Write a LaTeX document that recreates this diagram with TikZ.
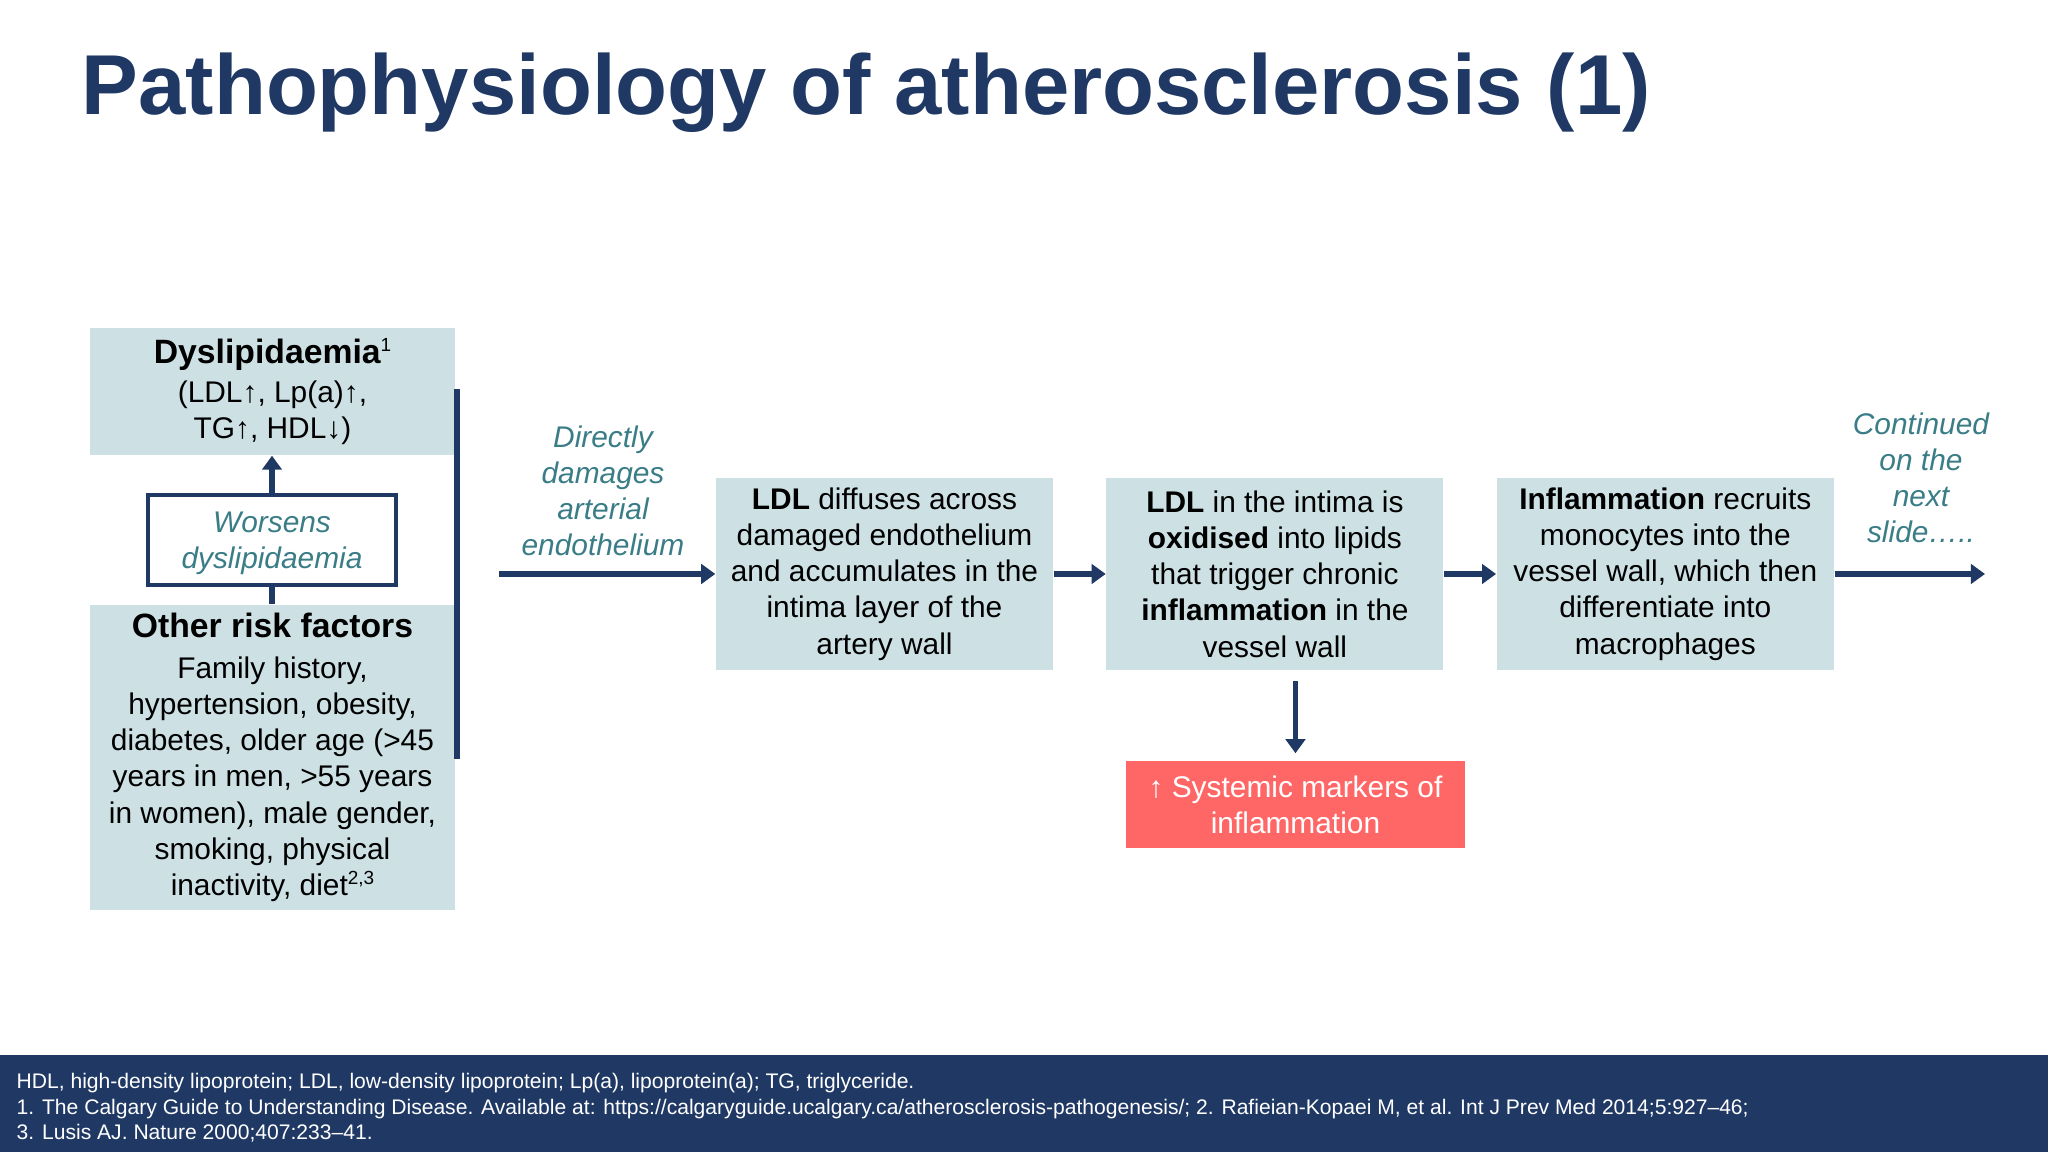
\documentclass[tikz,border=0pt]{standalone}
\usepackage{fontspec}
\setmainfont{Liberation Sans}
\definecolor{slnavy}{RGB}{31,56,100}
\definecolor{slbox}{RGB}{205,225,229}
\definecolor{slteal}{RGB}{58,125,135}
\definecolor{slred}{RGB}{255,102,102}
\usetikzlibrary{arrows.meta,positioning}
\newcommand{\refmark}[1]{\raisebox{0.7ex}{\fontsize{5.4}{6}\selectfont\mdseries #1}}

\begin{document}
\begin{tikzpicture}[
  flowbox/.style={fill=slbox, minimum width=3.37cm, minimum height=1.92cm, align=center, inner sep=2pt, font=\fontsize{8.5}{10.3}\selectfont},
  riskbox/.style={fill=slbox, minimum width=3.65cm, align=center, inner sep=2pt, font=\fontsize{8.5}{10.3}\selectfont},
  note/.style={align=center, text=slteal, font=\fontsize{8.5}{10.3}\selectfont\itshape},
  flow/.style={-{Triangle[length=4pt,width=5.5pt]}, line width=1.7pt, slnavy}
]
  % Page and footer band
  \fill[white] (0,0) rectangle (20.48,11.52);
  \fill[slnavy] (0,0) rectangle (20.48,0.967);
  \node[anchor=base west, inner sep=0pt, text=slnavy, font=\fontsize{24.2}{29}\selectfont\bfseries] (title) at (0.81,10.37) {Pathophysiology of atherosclerosis (1)};

  % Risk factors column
  \node[riskbox, minimum height=1.27cm] (dys) at (2.725,7.605) {{\fontsize{9.6}{11}\selectfont\bfseries Dyslipidaemia\refmark{1}}\\[0.6pt](LDL↑, Lp(a)↑,\\TG↑, HDL↓)};
  \node[riskbox, minimum height=3.05cm] (risk) at (2.725,3.945) {{\fontsize{9.6}{11}\selectfont\bfseries Other risk factors}\\[1.2pt]Family history,\\hypertension, obesity,\\diabetes, older age (>45\\years in men, >55 years\\in women), male gender,\\smoking, physical\\inactivity, diet\refmark{2,3}};
  \node[note, draw=slnavy, line width=1.3pt, fill=white, minimum width=2.48cm, minimum height=0.9cm, inner sep=1pt, text depth=0pt] (worse) at (2.72,6.12) {Worsens\\dyslipidaemia};
  \draw[slnavy, line width=1.7pt] (risk.north -| worse.south) -- (worse.south);
  \draw[flow] (worse.north) -- (dys.south -| worse.north);
  \coordinate (bartop) at (4.57,7.63);
  \coordinate (barbot) at (4.57,3.93);
  \draw[slnavy, line width=1.7pt] (bartop) -- (barbot);

  % Main pathway
  \node[flowbox] (ldl) at (8.845,5.78) {\textbf{LDL} diffuses across\\damaged endothelium\\and accumulates in the\\intima layer of the\\artery wall};
  \node[flowbox, right=0.52cm of ldl] (ox) {\textbf{LDL} in the intima is\\\textbf{oxidised} into lipids\\that trigger chronic\\\textbf{inflammation} in the\\vessel wall};
  \node[flowbox, right=0.52cm of ox] (inf) {\textbf{Inflammation} recruits\\monocytes into the\\vessel wall, which then\\differentiate into\\macrophages};
  \node[fill=slred, text=white, minimum width=3.39cm, minimum height=0.87cm, align=center, inner sep=2pt, font=\fontsize{8.5}{10.3}\selectfont] (sys) at (12.955,3.475) {↑ Systemic markers of\\inflammation};

  \coordinate (dmgstart) at (4.99,5.78);
  \coordinate (contend) at (19.85,5.78);
  \node[note] (dmg) at (6.03,6.61) {Directly\\damages\\arterial\\endothelium};
  \node[note] (cont) at (19.21,6.74) {Continued\\on the\\next\\slide…..};

  \draw[flow] (dmgstart) -- (ldl.west);
  \draw[flow] (ldl.east) -- (ox.west);
  \draw[flow] (ox.east) -- (inf.west);
  \draw[flow] (inf.east) -- (contend);
  \draw[flow, shorten <=3pt, shorten >=2pt] (sys.north |- ox.south) -- (sys.north);

  % References
  \node[anchor=north west, text=white, align=left, inner sep=0pt, font=\fontsize{6}{7.25}\selectfont] (refs) at (0.16,0.79) {HDL, high-density lipoprotein; LDL, low-density lipoprotein; Lp(a), lipoprotein(a); TG, triglyceride.\\1. The Calgary Guide to Understanding Disease. Available at: https://calgaryguide.ucalgary.ca/atherosclerosis-pathogenesis/; 2. Rafieian-Kopaei M, et al. Int J Prev Med 2014;5:927–46;\\3. Lusis AJ. Nature 2000;407:233–41.};
\end{tikzpicture}
\end{document}
